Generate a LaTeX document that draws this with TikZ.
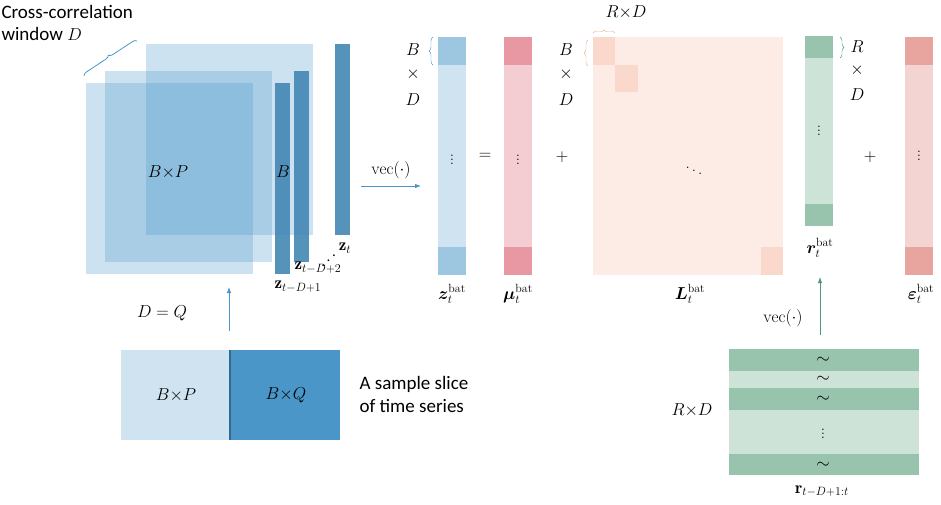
\documentclass[tikz,border=0pt]{standalone}
\usepackage{fontspec}
\usepackage{amsmath,amssymb,bm}
\usetikzlibrary{decorations.pathreplacing,arrows.meta}
\newfontfamily\carl{Carlito}
\definecolor{bluesq}{RGB}{74,150,200}
\definecolor{zl}{RGB}{207,227,240}\definecolor{zd}{RGB}{157,198,224}
\definecolor{ml}{RGB}{244,205,211}\definecolor{md}{RGB}{232,152,163}
\definecolor{Ll}{RGB}{253,235,229}\definecolor{Ld}{RGB}{250,217,204}
\definecolor{rl}{RGB}{205,227,216}\definecolor{rd}{RGB}{152,196,174}
\definecolor{el}{RGB}{244,211,211}\definecolor{ed}{RGB}{232,165,160}
\definecolor{arrb}{RGB}{74,150,200}\definecolor{arrg}{RGB}{80,150,120}\definecolor{brr}{RGB}{240,170,150}
\tikzset{lbl/.style={font=\fontsize{17}{19}\selectfont},
 sq/.style={fill=bluesq,fill opacity=0.28,draw=none},
 bar/.style={fill=bluesq!90!black,fill opacity=0.9,draw=none},
 br/.style={decorate,decoration={brace,amplitude=4pt}},
 arr/.style={-{Latex[length=6pt]},line width=0.8pt}}
\begin{document}
\begin{tikzpicture}[x=1pt,y=-1pt]
\useasboundingbox (0,0) rectangle (941,505);
\node[font=\carl\fontsize{19}{22}\selectfont,align=left,anchor=north west] (title) at (-2,2) {Cross-correlation\\window $D$};
\draw[br,arrb,thick] (84,76) -- (137,41);
\fill[sq] (146,44) rectangle (313,235);
\fill[sq] (105,71) rectangle (272,262);
\fill[sq] (86,83) rectangle (253,274);
\fill[bar] (275,83) rectangle (290,274);
\fill[bar] (294,71) rectangle (309,262);
\fill[bar] (335,44) rectangle (350,235);
\node[lbl] (bp1) at (168,172) {$B{\times}P$};
\node[lbl] (b1) at (283,172) {$B$};
\node[lbl] (zt) at (345,248) {$\mathbf{z}_t$};
\node[lbl] (zt2) at (318,268) {$\mathbf{z}_{t-D+2}$};
\node[lbl] (zt1) at (298,287) {$\mathbf{z}_{t-D+1}$};
\node[lbl,rotate=45] (dd) at (330,260) {$\cdots$};
\node[lbl] (vec1) at (391,170) {$\mathrm{vec}(\cdot)$};
\coordinate (a1) at (361,186); \coordinate (a2) at (421,186);
\draw[arr,arrb] (a1) -- (a2);
\fill[zl] (121,350) rectangle (230,440);
\fill[bluesq] (230,350) rectangle (340,440);
\draw[line width=1.5pt,bluesq!70!black] (230,350) -- (230,440);
\node[lbl] (bp2) at (176,395) {$B{\times}P$};
\node[lbl] (bq) at (286,395) {$B{\times}Q$};
\node[font=\carl\fontsize{19}{23}\selectfont,align=left,anchor=west] (slice) at (356,394) {A sample slice\\of time series};
\node[lbl] (dq) at (162,313) {$D=Q$};
\coordinate (b1s) at (229,331); \coordinate (b1e) at (229,287);
\draw[arr,arrb] (b1s) -- (b1e);
\fill[zl] (438,37) rectangle (466,275);
\fill[zd] (438,37) rectangle (466,65); \fill[zd] (438,247) rectangle (466,275);
\draw[br,arrb] (433,65) -- (433,37);
\node[lbl] at (452,157) {$\vdots$};
\node[lbl] at (413,50) {$B$};\node[lbl] at (413,74) {$\times$};\node[lbl] at (413,100) {$D$};
\node[lbl] (zbat) at (452,294) {$\bm{z}_t^{\mathrm{bat}}$};
\node[lbl] at (485,156) {$=$};
\fill[ml] (504,37) rectangle (532,275);
\fill[md] (504,37) rectangle (532,65); \fill[md] (504,247) rectangle (532,275);
\node[lbl] at (518,157) {$\vdots$};
\node[lbl] (mubat) at (518,294) {$\bm{\mu}_t^{\mathrm{bat}}$};
\node[lbl] at (562,157) {$+$};
\node[lbl] at (566,50) {$B$};\node[lbl] at (566,74) {$\times$};\node[lbl] at (566,100) {$D$};
\fill[Ll] (593,37) rectangle (783,275);
\fill[Ld] (593,37) rectangle (615,65); \fill[Ld] (615,65) rectangle (638,92); \fill[Ld] (761,247) rectangle (783,275);
\draw[br,brr] (588,66) -- (588,40);
\draw[br,brr,decoration={amplitude=3pt}] (593,33) -- (615,33);
\node[lbl] at (626,12) {$R{\times}D$};
\node[lbl] at (694,168) {$\ddots$};
\node[lbl] (Lbat) at (690,294) {$\bm{L}_t^{\mathrm{bat}}$};
\fill[rl] (805,36) rectangle (833,226);
\fill[rd] (805,36) rectangle (833,58); \fill[rd] (805,204) rectangle (833,226);
\draw[br,arrg] (840,37) -- (840,58);
\node[lbl] at (857,47) {$R$};\node[lbl] at (857,70) {$\times$};\node[lbl] at (857,95) {$D$};
\node[lbl] at (819,128) {$\vdots$};
\node[lbl] (rbat) at (820,248) {$\bm{r}_t^{\mathrm{bat}}$};
\node[lbl] at (870,157) {$+$};
\fill[el] (905,37) rectangle (933,275);
\fill[ed] (905,37) rectangle (933,65); \fill[ed] (905,247) rectangle (933,275);
\node[lbl] at (919,153) {$\vdots$};
\node[lbl] (ebat) at (921,294) {$\bm{\varepsilon}_t^{\mathrm{bat}}$};
\fill[rl] (729,349) rectangle (919,475);
\fill[rd] (729,349) rectangle (919,371); \fill[rd] (729,388) rectangle (919,410); \fill[rd] (729,454) rectangle (919,475);
\foreach \y in {360,379,399,465} \node[lbl] at (823,\y) {$\sim$};
\node[lbl] at (823,431) {$\vdots$};
\node[lbl] (rxd) at (692,410) {$R{\times}D$};
\node[lbl] (rseq) at (822,491) {$\mathbf{r}_{t-D+1:t}$};
\node[lbl] (vec2) at (783,318) {$\mathrm{vec}(\cdot)$};
\coordinate (g1) at (820,335); \coordinate (g2) at (820,277);
\draw[arr,arrg] (g1) -- (g2);
\end{tikzpicture}
\end{document}
